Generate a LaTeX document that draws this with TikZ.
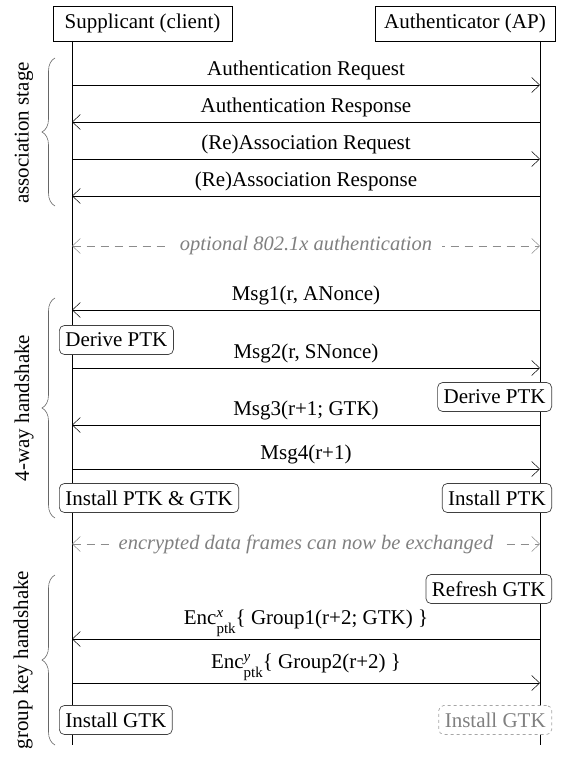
\documentclass[tikz,border=0pt]{standalone}
\usepackage{fontspec}
\setmainfont{Liberation Serif}
\usetikzlibrary{decorations.pathreplacing,arrows.meta}
\newcommand{\encsym}[1]{Enc\rlap{\raisebox{7pt}{\fontsize{15}{15}\selectfont\itshape #1}}\raisebox{-9pt}{\fontsize{15}{15}\selectfont ptk}}
\begin{document}
\begin{tikzpicture}[x=1pt,y=-1pt,
  font=\fontsize{21}{24}\selectfont,
  head/.style={draw, line width=0.8pt, minimum height=35pt, inner sep=0pt},
  life/.style={line width=0.8pt},
  tipR/.style={-{Straight Barb[length=8pt,width=15pt,line width=0.5pt]}},
  tipL/.style={{Straight Barb[length=8pt,width=15pt,line width=0.5pt]}-},
  msg/.style={line width=0.8pt},
  lbl/.style={midway, above, inner sep=5pt},
  box/.style={draw=black!75, rounded corners=5pt, fill=white, line width=0.7pt,
              minimum height=29pt, inner xsep=6pt, inner ysep=0pt},
  ghost/.style={box, draw=black!35, dashed, text=black!50},
  note/.style={line width=0.7pt, draw=black!45, dash pattern=on 8pt off 6pt,
               {Straight Barb[length=8pt,width=15pt,line width=0.5pt]}-{Straight Barb[length=8pt,width=15pt,line width=0.5pt]}},
  notelbl/.style={midway, fill=white, text=black!50, font=\fontsize{20.5}{24}\selectfont\itshape, inner xsep=10pt},
  brace/.style={draw=black!60, line width=0.6pt, decorate, decoration={brace, amplitude=13pt}},
  stage/.style={rotate=90, font=\fontsize{21}{24}\selectfont}
]
\useasboundingbox (0,0) rectangle (577,783);

% headers
\node[head, minimum width=179pt] (S) at (142.5,23.5) {Supplicant (client)};
\node[head, minimum width=180pt] (A) at (465,23.5) {Authenticator (AP)};

% lifelines
\coordinate (Ltop) at (72,41);
\coordinate (Lbot) at (72,745);
\coordinate (Rtop) at (540,41);
\coordinate (Rbot) at (540,745);
\draw[life] (Ltop) -- (Lbot);
\draw[life] (Rtop) -- (Rbot);

\foreach \n/\y in {1/85,2/122,3/159,4/196,5/246,6/310,7/368,8/425,9/469,10/544,11/639,12/683}{
  \coordinate (L\n) at (72,\y);
  \coordinate (R\n) at (540,\y);
}

% association stage
\draw[msg,tipR] (L1) -- node[lbl]{Authentication Request} (R1);
\draw[msg,tipL] (L2) -- node[lbl]{Authentication Response} (R2);
\draw[msg,tipR] (L3) -- node[lbl]{(Re)Association Request} (R3);
\draw[msg,tipL] (L4) -- node[lbl]{(Re)Association Response} (R4);

\draw[note] (L5) -- node[notelbl]{optional 802.1x authentication} (R5);

% 4-way handshake
\draw[msg,tipL] (L6) -- node[lbl]{Msg1(r, ANonce)} (R6);
\node[box, anchor=west] (dp1) at (59,340) {Derive PTK};
\draw[msg,tipR] (L7) -- node[lbl]{Msg2(r, SNonce)} (R7);
\node[box, anchor=east] (dp2) at (552,397) {Derive PTK};
\draw[msg,tipL] (L8) -- node[lbl]{Msg3(r+1; GTK)} (R8);
\draw[msg,tipR] (L9) -- node[lbl]{Msg4(r+1)} (R9);
\node[box, anchor=west] (ip1) at (59,498) {Install PTK \& GTK};
\node[box, anchor=east] (ip2) at (552,498) {Install PTK};

\draw[note] (L10) -- node[notelbl]{encrypted data frames can now be exchanged} (R10);

% group key handshake
\node[box, anchor=east] (rg) at (552,589) {Refresh GTK};
\draw[msg,tipL] (L11) -- node[lbl, inner sep=1.5pt]{\encsym{x}\{ Group1(r+2; GTK) \}} (R11);
\draw[msg,tipR] (L12) -- node[lbl, inner sep=1.5pt]{\encsym{y}\{ Group2(r+2) \}} (R12);
\node[box, anchor=west] (ig1) at (59,720) {Install GTK};
\node[ghost, anchor=east] (ig2) at (552,720) {Install GTK};

% braces
\coordinate (b1s) at (55,206);
\coordinate (b1e) at (55,58);
\coordinate (b2s) at (55,518);
\coordinate (b2e) at (55,298);
\coordinate (b3s) at (55,745);
\coordinate (b3e) at (55,575);
\draw[brace] (b1s) -- (b1e);
\draw[brace] (b2s) -- (b2e);
\draw[brace] (b3s) -- (b3e);
\node[stage] (st1) at (24,133) {association stage};
\node[stage] (st2) at (24,408) {4-way handshake};
\node[stage] (st3) at (23,660) {group key handshake};
\end{tikzpicture}
\end{document}
